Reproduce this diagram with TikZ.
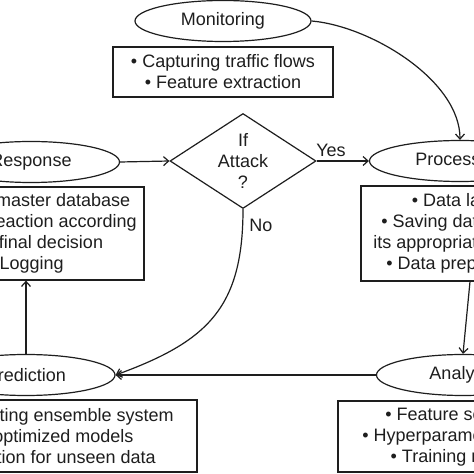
\documentclass[tikz,border=0pt]{standalone}
\usepackage{fontspec}
\setmainfont{Liberation Sans}
\usetikzlibrary{shapes.geometric,arrows.meta}
\definecolor{ink}{RGB}{30,30,30}
\begin{document}
\begin{tikzpicture}[x=1pt,y=1pt,
  every node/.style={text=ink,font=\fontsize{18}{21}\selectfont},
  ell/.style={ellipse,draw=ink,line width=1.2pt,inner sep=0pt,minimum height=41pt},
  txtbox/.style={rectangle,draw=ink,line width=1.2pt,align=center,inner sep=0pt},
  dec/.style={diamond,draw=ink,line width=1.2pt,align=center,inner sep=0pt,shape aspect=1.537,minimum width=146pt,minimum height=95pt},
  arr/.style={draw=ink,line width=1.2pt,-{Straight Barb[length=5pt,width=9pt]}},
  lbl/.style={inner sep=0pt}]
\clip (0,0) rectangle (474,474);
\fill[white] (0,0) rectangle (474,474);
% ellipses
\node[ell,minimum width=176pt] (mon) at (223,453) {Monitoring};
\node[ell,minimum width=177pt] (resp) at (31,312) {Response};
\node[ell,minimum width=181pt] (proc) at (460,313) {Processing};
\node[ell,minimum width=178pt] (pred) at (26,99) {Prediction};
\node[ell,minimum width=173pt] (ana) at (463,99) {Analysis};
% decision
\node[dec] (dia) at (243,313) {If\\Attack\\?};
% boxes
\node[txtbox,minimum width=220pt,minimum height=50pt] (monbox) at (223,402)
  {• Capturing traffic flows\\• Feature extraction};
\node[txtbox,minimum width=236pt,minimum height=93pt] (respbox) at (26,240.5)
  {• Update master database\\• Making reaction according\\to the final decision\\• Logging};
\node[txtbox,minimum width=218pt,minimum height=95pt] (procbox) at (470,240.5)
  {• Data labeling\\• Saving data labels in\\its appropriate database\\• Data preprocessing};
\node[txtbox,minimum width=304pt,minimum height=72pt] (predbox) at (45,38)
  {• Constructing ensemble system\\with optimized models\\• Prediction for unseen data};
\node[txtbox,minimum width=244pt,minimum height=71pt] (anabox) at (460,37.5)
  {• Feature selection\\• Hyperparameter tuning\\• Training models};
% connectors
\draw[arr] (mon.east) to[out=-5,in=90,looseness=0.8] (proc.north);
\draw[arr] (resp.east) -- (dia.west);
\draw[arr] (dia.east) -- (proc.west);
\node[lbl] (yes) at (331,324) {Yes};
\draw[arr] (dia.south) to[out=-90,in=20,looseness=1.2] (pred.east);
\node[lbl] (no) at (261,249) {No};
\draw[arr] (procbox.south) -- (ana.north);
\draw[arr] (ana.west) -- (pred.east);
\draw[arr] (pred.north) -- (respbox.south);
\end{tikzpicture}
\end{document}
